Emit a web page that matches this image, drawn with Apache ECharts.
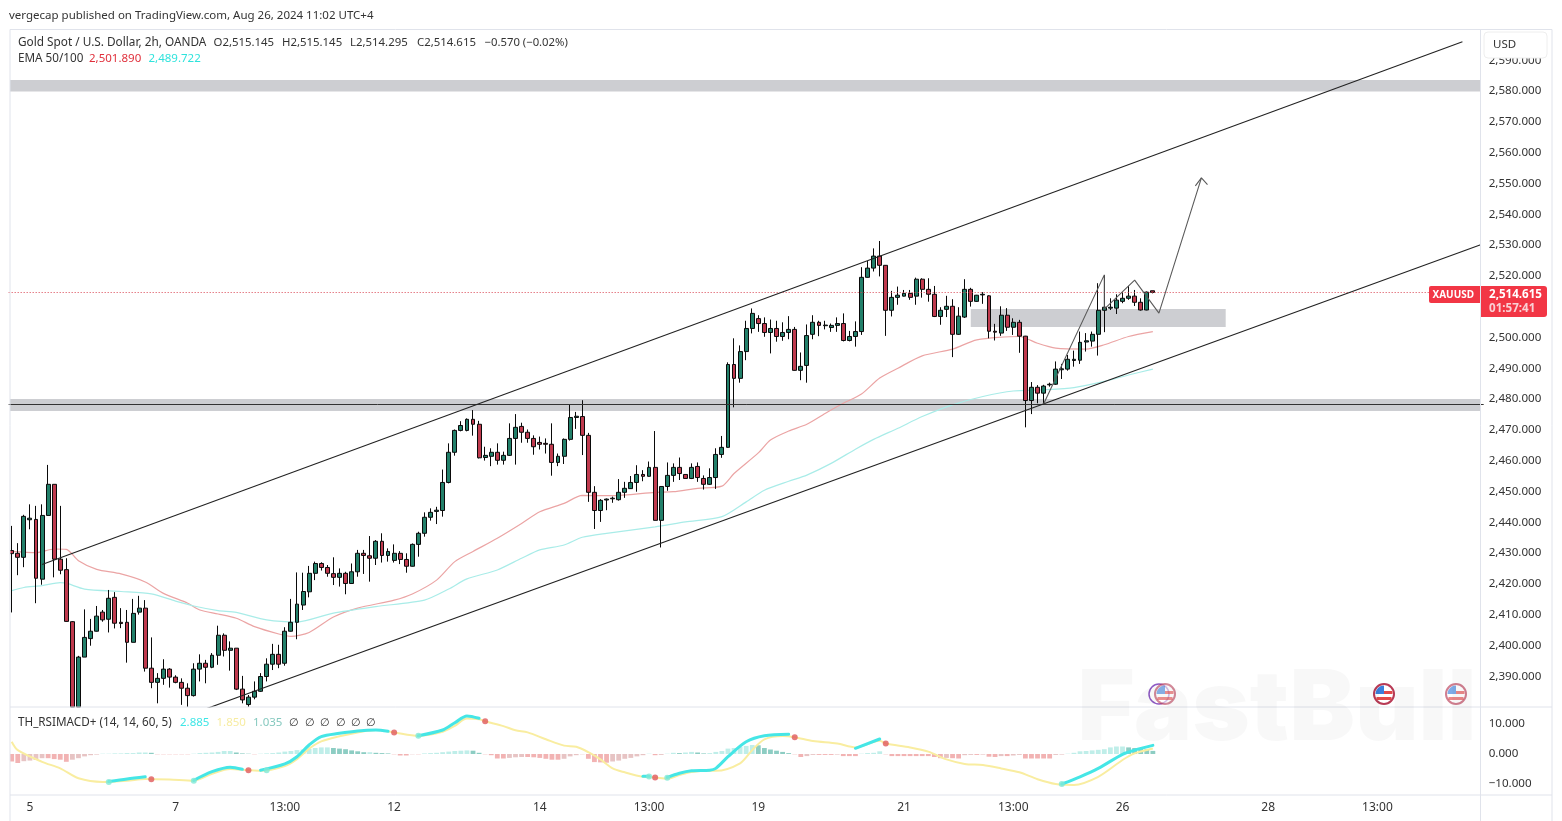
<!DOCTYPE html>
<html><head><meta charset="utf-8">
<script src="https://cdn.jsdelivr.net/npm/echarts@6/dist/echarts.min.js"></script>
<style>html,body{margin:0;padding:0;background:#fff}#c{width:1562px;height:821px}</style></head>
<body><div id="c"></div>
<script>
const open=[2430.8,2429.9,2428.6,2440.8,2440.9,2421.5,2442.2,2452.3,2428.0,2424.6,
2407.7,2380,2396.2,2402.2,2404.6,2410.8,2408.5,2415.6,2407.5,2407.5,
2401.0,2410.8,2412.1,2392.6,2388,2389.3,2392.3,2389.7,2388,2386.1,
2383.7,2392.3,2394.2,2392.9,2396.8,2403.3,2398.4,2399.1,2385.8,2380.8,
2383.2,2385.1,2389.9,2393.9,2397.1,2394.2,2404.6,2407.5,2413.1,2417.4,
2423.4,2426.6,2425.3,2423.3,2422.1,2423.4,2420.1,2423.9,2429.9,2429.1,
2428.3,2433.8,2429.2,2427.6,2429.9,2427.9,2425.7,2432.8,2436.4,2441.6,
2443.5,2443.8,2452.9,2462.7,2469.8,2469.8,2473.4,2471.8,2461,2461.4,
2462.7,2460.1,2461.7,2467.2,2471.1,2469.2,2467.2,2465.9,2465.6,2465.3,
2459.4,2461.4,2466.9,2474,2474.3,2468.2,2449.7,2443.8,2447.2,2447.6,
2447.3,2449.7,2450.9,2452.9,2455.5,2454.9,2457.8,2440.6,2451.6,2455.2,
2457.8,2455.5,2454.2,2458.1,2454.2,2452.3,2454.5,2462,2464.3,2491.2,
2486.7,2495.4,2502.9,2506.1,2504.5,2501.6,2502.9,2500.3,2501.6,2502.6,
2489.3,2490.9,2501,2504.9,2503.8,2503.2,2503.9,2504.5,2499,2500.3,
2501.9,2519.5,2522.5,2526.4,2523.4,2508.8,2513,2513.4,2514.3,2513.4,
2518.9,2515.6,2514,2506.8,2509.1,2510.1,2501,2506.6,2515.6,2511.7,
2513.8,2513.5,2502,2501.4,2507.2,2503.3,2504.9,2500.4,2479.5,2483.8,
2481.9,2484.6,2484.8,2489.5,2489.7,2492.5,2492.6,2498.5,2498.8,2501,
2508.8,2509.5,2509.5,2511.7,2512.7,2513.4,2511.4,2508.9,2515.145];
const close=[2429.8,2428.6,2441.9,2441.3,2421.8,2442.2,2452.3,2428,2424.4,2407.8,
2380,2396.2,2402.6,2404.6,2409.5,2408.3,2415.3,2407.2,2407.1,2401,
2410.4,2412.1,2392.6,2388,2389.3,2392.3,2389.7,2388,2386.1,2383.7,
2392.3,2394.2,2392.9,2396.8,2403.3,2398.4,2399.1,2385.8,2382.3,2383.2,
2385.1,2389.9,2393.9,2397.1,2393.9,2404.6,2407.5,2413.4,2417.5,2423.4,
2426.6,2425.3,2423.4,2422.1,2423.4,2420.1,2423.9,2429.9,2429.2,2428.3,
2433.8,2429.2,2430.5,2429.9,2427.9,2425.7,2432.8,2436.4,2441.6,2443.2,
2443.9,2452.9,2462.7,2469.8,2471.4,2473.4,2471.8,2460.9,2461.7,2462.7,
2460.1,2461.7,2467.2,2470.8,2469.2,2467.2,2464.5,2465.3,2465.3,2459.4,
2461.4,2466.9,2474,2474.4,2468.2,2449.7,2443.8,2447.1,2447.5,2447.8,
2449.7,2451,2452.9,2455.5,2454.9,2457.8,2440.6,2451.6,2455.2,2457.8,
2455.8,2454.2,2457.8,2454.5,2452.3,2454.5,2462,2464.3,2491.2,2486.7,
2495.4,2502.9,2507.8,2504.5,2501.6,2502.9,2500.3,2501.6,2502.6,2489.3,
2490.6,2500.6,2504.9,2503.9,2504,2503.9,2504.5,2499,2500.3,2501.9,
2519.5,2522.5,2526.4,2523.4,2508.8,2513,2513.7,2514.3,2513,2518.9,
2515.6,2514,2506.8,2508.8,2510.1,2501,2506.9,2515.6,2511.7,2513.7,
2514,2502,2501.7,2507.2,2503.3,2504.9,2500.4,2479.5,2483.8,2481.9,
2484.2,2484.8,2489.7,2489.8,2492.9,2492.9,2498.4,2498.9,2501,2508.8,
2509.8,2509.8,2512.1,2512.7,2513.4,2511.4,2508.9,2514.7,2514.615];
const high=[2438.8,2433.2,2442.4,2445.8,2445.3,2445.8,2458.6,2452.3,2445.3,2428.3,
2407.9,2396.6,2411.7,2408.6,2412.8,2411.5,2418,2417.3,2412.1,2411.5,
2415.1,2416.1,2414.7,2402.6,2391,2395.5,2392.6,2390.3,2389.3,2387.7,
2394.2,2397.1,2395.3,2397.5,2406.4,2403.9,2401.3,2399.1,2390.1,2383.9,
2388.3,2391,2395.8,2400.5,2400.2,2405.9,2415.1,2423.7,2423.6,2425.8,
2427.2,2427,2426.1,2428.6,2425,2423.9,2426.6,2431,2431,2435.5,
2434.2,2436.4,2431.5,2432.8,2430.6,2429.9,2433.1,2436.9,2443.2,2444.5,
2445,2457.1,2465.6,2470.1,2472.8,2473.7,2476.4,2472.9,2464.5,2464,
2465.6,2462.9,2472.1,2475.1,2472.3,2470.1,2468.2,2467.8,2467.2,2472.1,
2462.3,2467.2,2478.2,2475.8,2479.6,2469,2451.7,2447.5,2447.7,2448.3,
2454,2453.1,2455,2458.5,2456.9,2459.7,2469.6,2451.6,2459.4,2459.1,
2461,2455.5,2459.1,2459.4,2455.2,2457.5,2464,2468,2491.9,2499.7,
2497.4,2505.4,2509.4,2507.2,2506.5,2505.8,2505.4,2504.9,2506.9,2503.4,
2495.1,2504.2,2507.2,2505.4,2505.4,2504.5,2506.5,2507.8,2502.1,2505.2,
2522.8,2524.8,2528.9,2531.3,2523.5,2515.1,2516.5,2515.4,2515.4,2519.4,
2519.2,2519.2,2516.7,2509.8,2513.5,2512.4,2509.8,2518.9,2516.1,2513.8,
2514.7,2513.7,2504.4,2510.1,2509.5,2506.2,2505.7,2500.5,2485.5,2484.5,
2484.6,2485.3,2492.2,2491.4,2494.3,2495.7,2501.9,2501.4,2501.9,2517.6,
2520.3,2512.7,2514,2514.7,2516.7,2515.4,2512.7,2514.9,2515.145];
const low=[2410.7,2422.8,2425.4,2437.7,2413.7,2419.7,2442.1,2422.1,2423.1,2407.7,
2380,2380,2396.2,2399.9,2404.5,2407.7,2404.2,2405.5,2405.6,2394.4,
2401,2410,2391.5,2386.1,2381.2,2387.2,2386.3,2387.7,2380.7,2380,
2383.4,2388.3,2387.7,2392.6,2393.7,2396.4,2391.8,2385.5,2381.2,2380,
2382.5,2384.9,2388.3,2392,2392.6,2393.4,2404.5,2402,2411.5,2415.6,
2421.2,2424.3,2422.3,2419.6,2419.1,2416.6,2420,2422.3,2423.2,2420.7,
2426.1,2426.9,2427.2,2426.9,2426.4,2423.6,2425.6,2428.8,2435.3,2440.5,
2439.4,2441.8,2452.6,2461.6,2469.5,2469.5,2468.1,2460.7,2460,2458.2,
2458.7,2458.7,2461.5,2458.7,2465.8,2465.8,2461.9,2463.6,2462.3,2455.1,
2458.2,2458.9,2466.5,2470.3,2461.8,2446.6,2437.8,2440.1,2443.9,2446.3,
2447,2447.9,2450.8,2449.9,2453.3,2454.8,2440.6,2431.8,2450.2,2453.1,
2453.7,2454.2,2454,2453.1,2450.6,2452.1,2450.8,2460.9,2464.2,2477.3,
2485.3,2492.6,2501.3,2501.8,2500.2,2494.8,2498.6,2498.9,2499.4,2489.2,
2486.1,2485.3,2499.4,2500.4,2502.6,2501.8,2501.8,2498.7,2498.7,2497,
2500.8,2519.4,2521.4,2519.8,2500.5,2506.8,2510.6,2513.3,2512.2,2510.6,
2512.9,2511.6,2506.6,2504.1,2506.6,2493.6,2500.8,2506.3,2510,2511.5,
2510.9,2499.7,2499,2500.5,2502.1,2500.8,2495,2470.8,2475.1,2478.6,
2478.4,2484,2484.6,2486.5,2489.2,2490.5,2491.4,2495.4,2497,2494.1,
2501.7,2508.9,2507.6,2511.1,2512.2,2510.2,2508.7,2508.8,2514.295];
const ema50=[[0,2430.5],[4,2430.1],[7,2431.3],[9,2431.2],[11,2427.5],[14,2424.7],[18,2423.2],[22,2420.6],[25,2416.9],[29,2413.7],[31,2411.5],[34,2410.2],[37,2408.8],[40,2406.1],[44,2403.7],[46,2402.9],[49,2404.2],[53,2409.2],[57,2412.1],[63,2414.7],[66,2416.7],[70,2421.2],[73,2427.2],[76,2430.5],[80,2434.8],[84,2439.6],[87,2443.4],[91,2446.1],[94,2448.7],[99,2448.6],[106,2449.7],[109,2449.9],[113,2451],[117,2451.7],[119,2455.8],[123,2462.5],[125,2466.7],[128,2469.6],[131,2471.8],[134,2475.3],[137,2478.6],[140,2481.6],[143,2486.8],[146,2490],[150,2494],[155,2496.2],[159,2499.2],[166,2500.3],[169,2498.1],[172,2496.5],[177,2496.2],[180,2497.6],[184,2500.3],[188,2501.89]];
const ema100=[[0,2417.8],[2,2418.8],[5,2419.4],[8,2420.4],[9,2420.2],[12,2418.3],[18,2417.5],[23,2416.7],[27,2414.4],[30,2412.8],[34,2411.3],[37,2410.7],[42,2408.3],[47,2407.6],[53,2410.5],[60,2412.6],[68,2414.7],[72,2418.3],[75,2421.6],[80,2424.5],[84,2428.3],[87,2431],[91,2432.6],[94,2435.1],[98,2436.4],[106,2438.5],[111,2440.1],[117,2441.8],[121,2446.6],[124,2450.4],[128,2453.3],[131,2455.3],[135,2459.1],[139,2463.7],[142,2466.9],[146,2470.5],[150,2474.3],[155,2478.1],[160,2480.8],[165,2482.6],[170,2483],[175,2483.7],[180,2485.7],[184,2487.8],[188,2489.722]];
const channelUpper=[[5,2426.3],[239,2596]];
const channelLower=[[32,2379.4],[242,2530.1]];
const zigzag=[[170,2478.4],[180,2520.3],[180,2509.2],[185,2518.6],[189,2507.9],[196,2551.8]];
const arrowBarbs=[[195,2549.2],[196,2551.8],[197,2549.6]];
const zoneTop=[2583.6,2579.8];
const zoneLow=[2480,2476.1];
const zoneLowLine=2478.3;
const zoneMid=[158,200,2509.2,2503.4];
const lastPrice=2514.615;
const hist=[-2.5,-3,-2.4,-2.2,-2,-1.4,-1.4,-1.7,-1.9,-2.6,
-1.9,-1.4,-.8,-.4,-.2,.1,.1,.2,.2,.3,
.3,.5,.5,.4,-.1,-.1,-.1,-.1,-.1,-.1,
.1,.3,.4,.5,.7,1,1,.5,.2,.1,
-.1,.1,.2,.3,.5,.8,1,1.3,1.5,1.7,
2,2.2,2.2,2,1.8,1.6,1.2,.9,.6,.6,
.4,.3,.2,-.1,-.5,-.5,-.1,-.1,.2,.3,
.4,.6,.8,1,1.1,1.2,1.1,.4,-.1,-.4,
-1.5,-1.5,-1.3,-1.1,-1,-1,-1.1,-1.3,-1.6,-1.9,
-1.9,-1.6,-.8,-.4,-.1,-1.6,-2.7,-2.8,-2.9,-2.5,
-2.2,-1.6,-1.3,-.8,-.4,.1,-.4,-.3,.1,.4,
.3,.5,.7,.5,.2,.3,.7,1,1.8,2,
2.4,2.7,3,2.9,2,1.5,1.1,.7,.3,-.1,
-1,-.7,-.3,-.3,-.3,-.3,-.2,-.7,-.7,-.7,
.1,.3,.4,.9,-.1,-.7,-.7,-.7,-.7,-.7,
-.7,-.7,-1,-1.4,-1.3,-1.4,-1.5,-.4,-.3,-.3,
-.2,-.9,-1,-.7,-.7,-.5,-.3,-1.5,-1.5,-1.5,
-1.5,-1.5,-.3,-.2,.1,.4,.9,1,1.2,1.4,
1.6,2.2,2.5,2.5,2.2,2,1.8,1.6,1.035];
const slowLine=[[0,4.1],[1,1.3],[5,-2.6],[8,-4.8],[11,-8.1],[15,-9.3],[19,-8.9],[22,-8.3],[26,-8.5],[30,-8.9],[33,-6.6],[36,-5],[39,-5.4],[41,-5.6],[45,-4],[47,-1.7],[49,1.8],[51,4.2],[54,5.9],[57,7.2],[60,8],[63,7.2],[67,6.1],[71,7.4],[73,9.4],[75,11.8],[77,11.6],[78,10.9],[81,9.3],[83,7.9],[85,7.2],[88,4.9],[91,2.8],[93,2.4],[95,.6],[97,-1.8],[99,-4.8],[101,-6.1],[104,-7.6],[106,-7.8],[108,-8.2],[110,-7],[112,-6],[115,-5.6],[116,-5.6],[120,-3.1],[122,1.3],[124,4.9],[127,6],[129,5.6],[132,4.3],[136,3.5],[139,2.2],[143,4.4],[144,3.5],[148,2.2],[151,.8],[154,-1.8],[157,-3.3],[160,-3.7],[163,-4.8],[166,-6.1],[169,-8.4],[172,-10],[175,-10.3],[179,-7.6],[183,-2],[185,.2],[188,1.85]];
const fastA=[[16,-9.2],[19,-8.3],[22,-7.6]];
const fastB=[[30,-8.8],[33,-5.9],[36,-4.4],[38,-5.1]];
const fastC=[[41,-5.4],[45,-3.3],[47,-.9],[49,3],[51,5.8],[54,6.9],[57,7.7],[60,8],[62,7.6]];
const fastD=[[67,6.1],[71,8],[73,10.4],[75,12.7],[77,11.9]];
const fastE=[[104,-7.4],[105,-7.4]];
const fastF=[[108,-7.8],[110,-6.4],[112,-5.6],[115,-5.4],[116,-4.8],[118,-.9],[121,4.1],[124,6.1],[128,6.6]];
const fastG=[[139,1.9],[143,5]];
const fastH=[[173,-10],[176,-7.6],[179,-4.8],[183,-.1],[185,1.3],[188,2.885]];
const crossDown=[[23,-8.4],[39,-5.4],[63,7.2],[78,10.9],[106,-7.8],[129,5.6],[144,3.5]];
const crossUp=[[16,-9.3],[30,-8.9],[42,-5.4],[67,6.1],[105,-7.5],[108,-7.9],[173,-10]];
const tickIdx=[3,27,45,63,87,105,123,147,165,183,207,225];
const tickLabels=['5','7','13:00','12','14','13:00','19','21','13:00','26','28','13:00'];
const priceLabels={min:2380,max:2600,step:10};
const oscTicks=[-10,0,10];

const BAND=6.07,COUNT=243,LEFT=11.7-BAND/2,W=BAND*COUNT;
const cats=Array.from({length:COUNT},(_,i)=>{const k=tickIdx.indexOf(i);return k>=0?tickLabels[k]:'';});
const candles=open.map((o,i)=>[o,close[i],low[i],high[i]]);
const FONT='"Noto Sans"';
const fmt=v=>v.toFixed(3).replace('-','\u2212').replace(/\B(?=(\d{3})+(?!\d)\.)/,',');
const histColor=i=>{const v=hist[i],p=i?hist[i-1]:0;
  if(v>=0)return v>=p?'#bfeee9':'#8dcdc3';
  return v<=p?'#f2b3b3':'#e7c4c4';};
function txt(x,y,text,fill,size,extra){return {type:'text',z:60,silent:true,style:Object.assign({x,y,text,fill,font:(size||12)+'px '+FONT,verticalAlign:'middle'},extra||{})};}
function hline(x1,y1,x2,y2){return {type:'line',z:6,silent:true,shape:{x1,y1,x2,y2},style:{stroke:'#e0e3eb',lineWidth:1}};}
function flag(cx,cy,op){return {type:'group',z:50,silent:true,children:[
 {type:'circle',z:50,shape:{cx,cy,r:10},style:{fill:'#fff',stroke:'#b83a55',lineWidth:2,opacity:op}},
 {type:'sector',z:51,shape:{cx,cy,r:8.5,r0:0,startAngle:Math.PI,endAngle:1.5*Math.PI},style:{fill:'#3a7fdc',opacity:op}},
 {type:'rect',z:51,shape:{x:cx,y:cy-3,width:8.5,height:3},style:{fill:'#e24a4a',opacity:op}},
 {type:'rect',z:51,shape:{x:cx-7.5,y:cy+3,width:15,height:3},style:{fill:'#e24a4a',opacity:op}}
]};}
const tl=(data,color,w,extra)=>Object.assign({type:'line',xAxisIndex:0,yAxisIndex:0,data,symbol:'none',silent:true,z:3,lineStyle:{color,width:w}},extra||{});
const fast=d=>({type:'line',xAxisIndex:1,yAxisIndex:1,data:d,symbol:'none',smooth:.3,silent:true,z:4,lineStyle:{color:'#45e6e6',width:3,cap:'round'}});

const chart=echarts.init(document.getElementById('c'),null,{renderer:'canvas'});
chart.setOption({
 animation:false,backgroundColor:'#fff',
 grid:[{left:LEFT,top:29.4,width:W,height:677.6},{left:LEFT,top:707,width:W,height:88}],
 xAxis:[
  {type:'category',gridIndex:0,data:cats,boundaryGap:true,axisLine:{show:false},axisTick:{show:false},axisLabel:{show:false},splitLine:{show:false}},
  {type:'category',gridIndex:1,data:cats,boundaryGap:true,axisLine:{show:false},axisTick:{show:false},splitLine:{show:false},
   axisLabel:{interval:(i,v)=>v!=='',color:'#333',fontFamily:FONT,fontSize:12,margin:7,hideOverlap:false}}
 ],
 yAxis:[
  {type:'value',gridIndex:0,position:'right',min:priceLabels.min,max:priceLabels.max,interval:priceLabels.step,z:10,
   axisLine:{show:false},axisTick:{show:false},splitLine:{show:false},
   axisLabel:{margin:5,color:'#333',fontFamily:FONT,fontSize:11.6,padding:[5,0,0,0],showMinLabel:false,showMaxLabel:false,formatter:fmt}},
  {type:'value',gridIndex:1,position:'right',min:-13.67,max:15.67,z:10,
   axisLine:{show:false},axisTick:{show:false},splitLine:{show:false},
   axisLabel:{margin:5,color:'#333',fontFamily:FONT,fontSize:11.6,padding:[5,0,0,0],customValues:oscTicks,formatter:fmt}}
 ],
 series:[
  {type:'line',xAxisIndex:0,yAxisIndex:0,data:[],z:1,silent:true,markArea:{silent:true,itemStyle:{color:'#cdced2'},data:[
    [{yAxis:zoneTop[0]},{yAxis:zoneTop[1]}],
    [{yAxis:zoneLow[0]},{yAxis:zoneLow[1]}],
    [{xAxis:zoneMid[0],yAxis:zoneMid[2]},{xAxis:zoneMid[1],yAxis:zoneMid[3]}]
  ]},markLine:{silent:true,symbol:'none',label:{show:false},data:[
    {yAxis:zoneLowLine,lineStyle:{color:'#333',width:1,type:'solid'}},
    {yAxis:lastPrice,lineStyle:{color:'#d9404f',width:1,type:[1,2]}}
  ]}},
  tl(ema50,'#eba4a4',1.2,{smooth:.25}),
  tl(ema100,'#a9ece8',1.2,{smooth:.25}),
  {type:'candlestick',xAxisIndex:0,yAxisIndex:0,data:candles,barWidth:4.4,z:4,silent:true,
   itemStyle:{color:'#22806a',color0:'#bf3a4e',borderColor:'#0a0a0a',borderColor0:'#0a0a0a',borderColorDoji:'#0a0a0a',borderWidth:1}},
  tl(channelUpper,'#222',1.1,{z:5}),
  tl(channelLower,'#222',1.1,{z:5}),
  tl(zigzag,'#5a5a5a',1.1,{z:5}),
  tl(arrowBarbs,'#5a5a5a',1.1,{z:5}),
  {type:'bar',xAxisIndex:1,yAxisIndex:1,barWidth:4.8,silent:true,z:2,
   data:hist.map((v,i)=>({value:v,itemStyle:{color:histColor(i)}}))},
  {type:'line',xAxisIndex:1,yAxisIndex:1,data:slowLine,symbol:'none',smooth:.3,silent:true,z:3,lineStyle:{color:'#f9eda0',width:2}},
  fast(fastA),fast(fastB),fast(fastC),fast(fastD),fast(fastE),fast(fastF),fast(fastG),fast(fastH),
  {type:'scatter',xAxisIndex:1,yAxisIndex:1,data:crossUp,symbolSize:6,silent:true,z:5,itemStyle:{color:'#7fe8d6'}},
  {type:'scatter',xAxisIndex:1,yAxisIndex:1,data:crossDown,symbolSize:6,silent:true,z:5,itemStyle:{color:'#e0595b'}}
 ],
 graphic:{elements:[
  {type:'rect',z:5,silent:true,shape:{x:0,y:0,width:10,height:821},style:{fill:'#fff'}},
  {type:'rect',z:5,silent:true,shape:{x:1480,y:0,width:82,height:821},style:{fill:'#fff'}},
  hline(10,29.5,1552,29.5),hline(10,29.5,10,821),hline(1480.5,29.5,1480.5,821),hline(1552,29.5,1552,821),
  hline(10,707,1552,707),hline(10,795,1552,795),
  txt(9,15.5,'vergecap published on TradingView.com, Aug 26, 2024 11:02 UTC+4','#333',11.5),
  txt(18,43,'Gold Spot / U.S. Dollar, 2h, OANDA','#333',11.8),
  txt(213.5,43,'O2,515.145','#333',11.4),txt(282,43,'H2,515.145','#333',11.4),
  txt(350,43,'L2,514.295','#333',11.4),txt(417,43,'C2,514.615','#333',11.4),
  txt(484.5,43,'\u22120.570 (\u22120.02%)','#333',11.3),
  txt(18,59,'EMA 50/100','#333',11.7),
  txt(89,59,'2,501.890','#e0303c',11.5),txt(148.5,59,'2,489.722','#2fe3dc',11.5),
  txt(18,723,'TH_RSIMACD+ (14, 14, 60, 5)','#333',11.7),
  txt(180,723,'2.885','#3fe6e6',11.5),txt(216.5,723,'1.850','#f7eca2',11.5),txt(253,723,'1.035','#86c9bf',11.5),
  txt(289,723,'\u2205','#333',11),txt(304.5,723,'\u2205','#333',11),txt(320,723,'\u2205','#333',11),
  txt(335.5,723,'\u2205','#333',11),txt(351,723,'\u2205','#333',11),txt(366,723,'\u2205','#333',11),
  {type:'circle',z:49,silent:true,shape:{cx:1159,cy:694,r:10},style:{fill:'#fff',stroke:'#8e5ac4',lineWidth:1.5}},
  flag(1165,694,.6),flag(1384,694,1),flag(1456,694,.65),
  {type:'text',z:100,silent:true,style:{x:1277,y:711,text:'FastBull',align:'center',verticalAlign:'middle',font:'900 98px Inter',fill:'rgba(0,0,0,0.028)',shadowBlur:8,shadowColor:'rgba(0,0,0,0.04)',shadowOffsetY:3}},
  {type:'rect',z:200,silent:true,shape:{x:1484,y:32,width:63,height:26,r:4},style:{fill:'#fff',stroke:'#eeeeee',lineWidth:1}},
  Object.assign(txt(1493,45,'USD','#333',11.5),{z:210}),
  {type:'rect',z:200,silent:true,shape:{x:1429,y:286,width:51,height:17,r:[2,0,0,2]},style:{fill:'#f23645'}},
  {type:'rect',z:200,silent:true,shape:{x:1481,y:286,width:66,height:31,r:[0,3,3,0]},style:{fill:'#f23645'}},
  Object.assign(txt(1432.5,295,'XAUUSD','#fff',10,{font:'bold 10px '+FONT}),{z:210}),
  Object.assign(txt(1489,294.5,'2,514.615','#fff',11.6,{font:'bold 11.6px '+FONT}),{z:210}),
  Object.assign(txt(1489,309,'01:57:41','#f9d0d4',11.6,{font:'bold 11.6px '+FONT}),{z:210})
 ]}
});
</script></body></html>
